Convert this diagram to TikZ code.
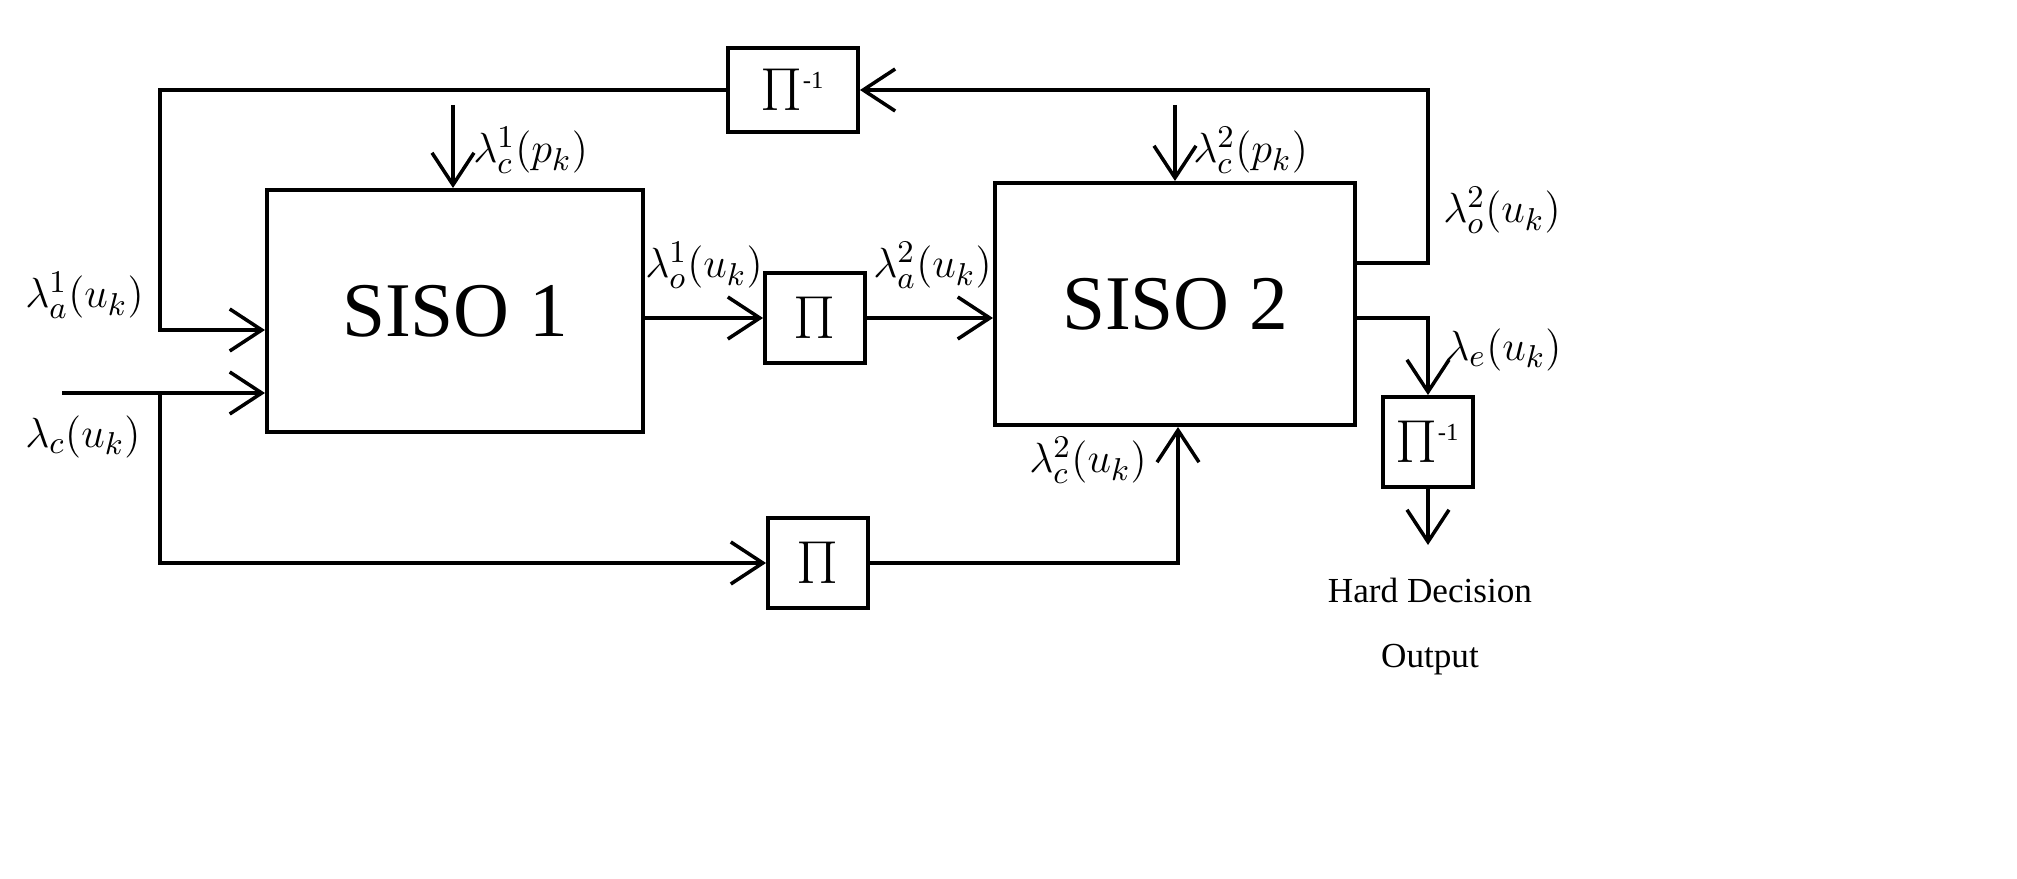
\documentclass[tikz,border=0pt]{standalone}
\usepackage{fontspec}
\setmainfont{Liberation Serif}
\usetikzlibrary{arrows.meta}
\begin{document}
\begin{tikzpicture}[x=0.01cm,y=-0.01cm,
  line width=1pt,
  arr/.style={-{Straight Barb[length=3.2mm,width=4.2mm,line width=1pt]}},
  blk/.style={draw,line width=1.1pt,inner sep=0pt},
  lbl/.style={font=\fontsize{13}{16}\selectfont,inner sep=1pt},
  pibox/.style={draw,line width=1.1pt,inner sep=0pt,font=\fontsize{16}{19}\selectfont}]
\useasboundingbox (0,0) rectangle (2017,879);
\node[blk,minimum width=3.76cm,minimum height=2.42cm,font=\fontsize{22}{26}\selectfont] (s1) at (455,311) {SISO 1};
\node[blk,minimum width=3.6cm,minimum height=2.42cm,font=\fontsize{22}{26}\selectfont] (s2) at (1175,304) {SISO 2};
\node[pibox,minimum width=1.0cm,minimum height=0.9cm] (p1) at (815,318) {$\Pi$};
\node[pibox,minimum width=1.3cm,minimum height=0.84cm] (pt) at (793,90) {$\Pi^{\mbox{\scriptsize -1}}$};
\node[pibox,minimum width=1.0cm,minimum height=0.9cm] (pb) at (818,563) {$\Pi$};
\node[pibox,minimum width=0.9cm,minimum height=0.9cm] (pr) at (1428,442) {$\Pi^{\mbox{\scriptsize -1}}$};
\coordinate (in) at (62,393);
\coordinate (br) at (160,393);
\coordinate (tl) at (160,90);
\coordinate (tr) at (1428,90);
\coordinate (o2) at (1428,263);
\coordinate (e2) at (1428,318);
\coordinate (bb) at (1178,563);
\coordinate (t1) at (453,105);
\coordinate (t2) at (1175,105);
\coordinate (out) at (1428,545);
\draw[arr] (in) -- (s1.west |- in);
\draw[arr] (pt.west) -- (tl) -- (160,330) -- (s1.west |- 0,330);
\draw[arr] (s1.east |- p1) -- (p1.west);
\draw[arr] (p1.east) -- (s2.west |- p1);
\draw[arr] (s2.east |- o2) -- (o2) -- (tr) -- (pt.east);
\draw[arr] (s2.east |- e2) -- (e2) -- (pr.north);
\draw[arr] (br) -- (160,563) -- (pb.west);
\draw[arr] (pb.east) -- (bb) -- (s2.south -| bb);
\draw[arr] (t1) -- (s1.north -| t1);
\draw[arr] (t2) -- (s2.north -| t2);
\draw[arr] (pr.south) -- (out);
\node[lbl,anchor=west] (l1) at (468,150) {$\lambda_c^1(p_k)$};
\node[lbl,anchor=west] (l2) at (1188,150) {$\lambda_c^2(p_k)$};
\node[lbl,anchor=west] (l3) at (20,295) {$\lambda_a^1(u_k)$};
\node[lbl,anchor=west] (l4) at (20,437) {$\lambda_c(u_k)$};
\node[lbl,anchor=west] (l5) at (640,265) {$\lambda_o^1(u_k)$};
\node[lbl,anchor=west] (l6) at (868,265) {$\lambda_a^2(u_k)$};
\node[lbl,anchor=west] (l7) at (1438,210) {$\lambda_o^2(u_k)$};
\node[lbl,anchor=west] (l8) at (1440,350) {$\lambda_e(u_k)$};
\node[lbl,anchor=east] (l9) at (1152,460) {$\lambda_c^2(u_k)$};
\node[font=\fontsize{10}{12}\selectfont] (h1) at (1430,590) {Hard Decision};
\node[font=\fontsize{10}{12}\selectfont] (h2) at (1430,660) {Output};
\end{tikzpicture}
\end{document}
